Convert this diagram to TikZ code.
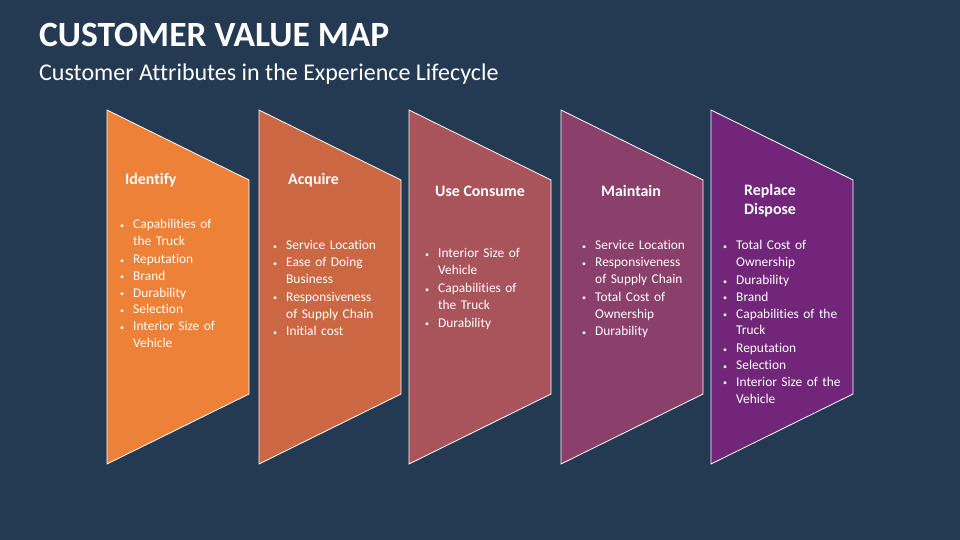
\documentclass[tikz,border=0pt]{standalone}
\usepackage{fontspec}
\setmainfont{Carlito}[Ligatures=NoCommon]
\definecolor{bg}{HTML}{243A53}
\definecolor{c1}{HTML}{ED8137}
\definecolor{c2}{HTML}{CB6843}
\definecolor{c3}{HTML}{A9545A}
\definecolor{c4}{HTML}{8B3F6B}
\definecolor{c5}{HTML}{71267A}
\newcommand{\bi}[1]{\noindent\makebox[13pt][l]{\raisebox{0.5pt}{\footnotesize\textbullet}}\parbox[t]{118pt}{\raggedright\strut#1\strut}\par}
\begin{document}
\begin{tikzpicture}[x=1pt,y=-1pt,
  panel/.style={draw=white,line width=0.8pt},
  head/.style={anchor=west,text=white,font=\fontsize{15.9}{19}\selectfont\bfseries,align=left,inner sep=0},
  list/.style={anchor=north west,text=white,font=\fontsize{13.4}{16.8}\selectfont,text width=135pt,inner sep=0}]
\fill[bg] (0,0) rectangle (960,540);
\useasboundingbox (0,0) rectangle (960,540);
\node[anchor=west,text=white,font=\fontsize{35.5}{40}\selectfont\bfseries,inner sep=0] (title) at (39,35) {CUSTOMER VALUE MAP};
\node[anchor=west,text=white,font=\fontsize{24}{28}\selectfont,inner sep=0] (sub) at (39,74) {Customer Attributes in the Experience Lifecycle};
\foreach \x/\c [count=\i] in {107/c1,259/c2,409/c3,561/c4,711/c5}{
  \fill[\c] (\x,110) -- (\x+142,180) -- (\x+142,394) -- (\x,464) -- cycle;
  \draw[panel] (\x,110) -- (\x+142,180) -- (\x+142,394) -- (\x,464) -- cycle;
}
\node[head] (h1) at (125,180) {Identify};
\node[head] (h2) at (288,180) {Acquire};
\node[head] (h3) at (435,191) {Use Consume};
\node[head] (h4) at (601,191) {Maintain};
\node[head] (h5) at (744,201) {Replace\\Dispose};
\node[list] (l1) at (120,217) {\bi{Capabilities of\\the Truck}\bi{Reputation}\bi{Brand}\bi{Durability}\bi{Selection}\bi{Interior Size of\\Vehicle}};
\node[list] (l2) at (273,238) {\bi{Service Location}\bi{Ease of Doing\\Business}\bi{Responsiveness\\of Supply Chain}\bi{Initial cost}};
\node[list] (l3) at (425,246) {\bi{Interior Size of\\Vehicle}\bi{Capabilities of\\the Truck}\bi{Durability}};
\node[list] (l4) at (582,238) {\bi{Service Location}\bi{Responsiveness\\of Supply Chain}\bi{Total Cost of\\Ownership}\bi{Durability}};
\node[list] (l5) at (723,238) {\bi{Total Cost of\\Ownership}\bi{Durability}\bi{Brand}\bi{Capabilities of the\\Truck}\bi{Reputation}\bi{Selection}\bi{Interior Size of the\\Vehicle}};
\end{tikzpicture}
\end{document}
